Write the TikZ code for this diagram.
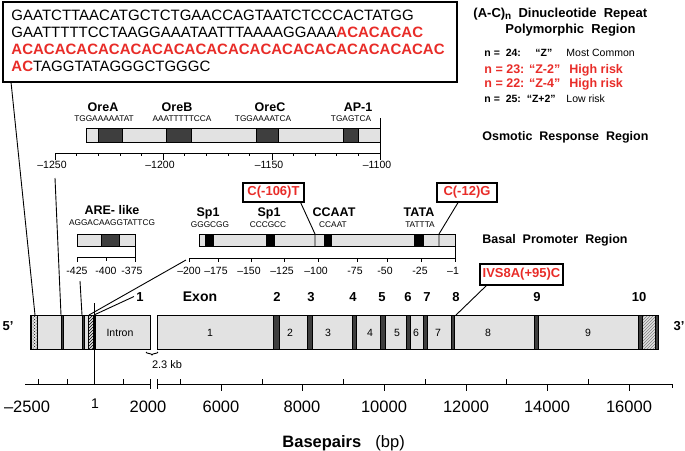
\documentclass[tikz,border=0pt]{standalone}
\usepackage{fontspec}
\setmainfont{Liberation Sans}
\usepackage{tikz}
\usetikzlibrary{patterns, decorations.pathreplacing, arrows.meta, positioning, calc}
\usepackage{xcolor}
\definecolor{repred}{RGB}{232,44,40}
\definecolor{barfill}{RGB}{226,226,226}
\definecolor{sitefill}{RGB}{62,62,62}
\newcommand{\fsz}[1]{\fontsize{#1}{#1}\selectfont}

\begin{document}
\begin{tikzpicture}[x=1pt, y=-1pt, line width=0.9pt,
    lbl/.style={inner sep=0pt, anchor=base},
    seqline/.style={lbl, anchor=base west, font=\fsz{15}},
    site/.style={lbl, font=\fsz{12.5}\bfseries},
    motif/.style={lbl, font=\fsz{8.3}},
    tick/.style={lbl, font=\fsz{10.5}},
    region/.style={lbl, anchor=base west, font=\fsz{12.5}\bfseries},
    mutbox/.style={draw, line width=1.3pt, inner sep=0pt, minimum height=19pt, font=\fsz{13}\bfseries, text=repred},
    bar/.style={draw, fill=barfill},
    exonbar/.style={draw, fill=sitefill},
    exnum/.style={lbl, font=\fsz{13}\bfseries},
    innum/.style={lbl, font=\fsz{10.5}},
    axlbl/.style={lbl, font=\fsz{16.5}}
]
    \useasboundingbox (0,0) rectangle (685,450);

    % (A-C)n sequence
    \node[draw, line width=1.8pt, minimum width=454pt, minimum height=80pt, inner sep=0pt] (seqbox) at (230,42) {};
    \node[seqline] (s1) at (11,20) {GAATCTTAACATGCTCTGAACCAGTAATCTCCCACTATGG};
    \node[seqline] (s2) at (11,37) {GAATTTTTCCTAAGGAAATAATTTAAAAGGAAA\textcolor{repred}{\bfseries ACACACAC}};
    \node[seqline, text=repred, font=\fsz{15}\bfseries] (s3) at (11,54) {ACACACACACACACACACACACACACACACACACACACAC};
    \node[seqline] (s4) at (11,71) {\textcolor{repred}{\bfseries AC}TAGGTATAGGGCTGGGC};

    % legend
    \node[region, font=\fsz{13}\bfseries] (rep1) at (473,17) {(A-C)\raisebox{-2.5pt}{\fsz{10}n}\ \ Dinucleotide\ \ Repeat};
    \node[region, font=\fsz{13}\bfseries] (rep2) at (505,33) {Polymorphic\ \ Region};
    \node[region, font=\fsz{10.5}\bfseries] (n24) at (484,56) {n =\ \ 24:};
    \node[region, font=\fsz{10.5}\bfseries] (z24) at (535,56) {“Z”};
    \node[region, font=\fsz{10.5}] (r24) at (566,56) {Most Common};
    \node[region, text=repred] (n23) at (484,73) {n = 23: “Z-2”};
    \node[region, text=repred] (r23) at (569,73) {High risk};
    \node[region, text=repred] (n22) at (484,87) {n = 22: “Z-4”};
    \node[region, text=repred] (r22) at (569,87) {High risk};
    \node[region, font=\fsz{10.5}\bfseries] (n25) at (484,102) {n =\ \ 25:\ \ “Z+2”};
    \node[region, font=\fsz{10.5}] (r25) at (566,102) {Low risk};

    % osmotic response region
    \node[site] (orea) at (103,111) {OreA};
    \node[motif] (oreaseq) at (104,121) {TGGAAAAATAT};
    \node[site] (oreb) at (177,111) {OreB};
    \node[motif] (orebseq) at (182,121) {AAATTTTTCCA};
    \node[site] (orec) at (270,111) {OreC};
    \node[motif] (orecseq) at (263,121) {TGGAAAATCA};
    \node[site] (ap1) at (358,111) {AP-1};
    \node[motif] (ap1seq) at (351,121) {TGAGTCA};
    \draw[bar] (86,128) rectangle (380,142);
    \draw[exonbar] (98,128) rectangle (122,142);
    \draw[exonbar] (166,128) rectangle (191,142);
    \draw[exonbar] (256,128) rectangle (278,142);
    \draw[exonbar] (343,128) rectangle (358,142);
    \draw (55,160) -- (55,153) -- (380,153);
    \draw (163,153) -- (163,160) (272,153) -- (272,160) (380,118) -- (380,160);
    \draw (76.7,153) -- ++(0,3) (98.3,153) -- ++(0,3) (120,153) -- ++(0,3) (141.7,153) -- ++(0,3)
          (184.7,153) -- ++(0,3) (206.3,153) -- ++(0,3) (228,153) -- ++(0,3) (249.7,153) -- ++(0,3)
          (293.3,153) -- ++(0,3) (315,153) -- ++(0,3) (336.7,153) -- ++(0,3) (358.3,153) -- ++(0,3);
    \node[tick] (o1250) at (52,168) {–1250};
    \node[tick] (o1200) at (160,168) {–1200};
    \node[tick] (o1150) at (269,168) {–1150};
    \node[tick] (o1100) at (377,168) {–1100};
    \node[region] (osmo) at (482,140) {Osmotic\ \ Response\ \ Region};

    % ARE-like
    \node[site] (are) at (112,214) {ARE- like};
    \node[motif] (areseq) at (112,225) {AGGACAAGGTATTCG};
    \draw[bar] (77,234) rectangle (135,246);
    \draw[exonbar] (101,234) rectangle (119,246);
    \draw (77,262) -- (77,257) -- (135,257);
    \draw (106,257) -- (106,261) (135,246) -- (135,262);
    \node[tick] (a425) at (77,274) {-425};
    \node[tick] (a400) at (106,274) {-400};
    \node[tick] (a375) at (132,274) {-375};

    % basal promoter region
    \node[site] (sp1a) at (208,216) {Sp1};
    \node[motif] (sp1aseq) at (210,227) {GGGCGG};
    \node[site] (sp1b) at (269,216) {Sp1};
    \node[motif] (sp1bseq) at (268,227) {CCCGCC};
    \node[site] (ccaat) at (334,216) {CCAAT};
    \node[motif] (ccaatseq) at (333,227) {CCAAT};
    \node[site] (tata) at (419,216) {TATA};
    \node[motif] (tataseq) at (420,227) {TATTTA};
    \draw[bar] (199,234) rectangle (455,246);
    \draw[fill=black] (205,234) rectangle (213,246);
    \draw[fill=black] (266,234) rectangle (274,246);
    \draw[fill=black] (324,234) rectangle (331,246);
    \draw[fill=black] (414,234) rectangle (423,246);
    \draw (189,262) -- (189,258) -- (455,258);
    \draw (218,258) -- ++(0,4) (251,258) -- ++(0,4) (284,258) -- ++(0,4) (318,258) -- ++(0,4)
          (357,258) -- ++(0,4) (387,258) -- ++(0,4) (421,258) -- ++(0,4) (455,246) -- (455,262);
    \node[tick] (b200) at (189,274) {–200};
    \node[tick] (b175) at (216,274) {–175};
    \node[tick] (b150) at (249,274) {–150};
    \node[tick] (b125) at (282,274) {–125};
    \node[tick] (b100) at (316,274) {–100};
    \node[tick] (b75) at (355,274) {-75};
    \node[tick] (b50) at (385,274) {-50};
    \node[tick] (b25) at (420,274) {-25};
    \node[tick] (b1) at (453,274) {–1};
    \node[region] (basal) at (482,243) {Basal\ \ Promoter\ \ Region};

    % polymorphisms
    \node[mutbox, minimum width=61pt] (c106) at (273.5,192.5) {C(-106)T};
    \node[mutbox, minimum width=60pt] (c12) at (467,192.5) {C(-12)G};
    \node[mutbox, minimum width=83pt, minimum height=21pt] (ivs) at (521.5,274.5) {IVS8A(+95)C};
    \coordinate (m106a) at (315,234);
    \coordinate (m106b) at (315,246);
    \coordinate (m12a) at (439,234);
    \coordinate (m12b) at (439,246);
    \coordinate (mivsa) at (456,315);
    \coordinate (mivsb) at (456,349);
    \draw ([xshift=-4pt]c106.south east) -- (m106a) -- (m106b);
    \draw ([xshift=-9pt]c12.south) -- (m12a) -- (m12b);
    \draw ([xshift=7pt]ivs.south west) -- (mivsa) -- (mivsb);

    % gene
    \node[lbl, font=\fsz{13}\bfseries] (five) at (8,330) {5’};
    \node[lbl, font=\fsz{13}\bfseries] (three) at (679,330) {3’};
    \draw[bar] (30,315) rectangle (150,349);
    \draw[bar] (157,315) rectangle (658,349);
    \draw[pattern=crosshatch dots] (30,315) rectangle (37,349);
    \draw[line width=1.8pt] (30.9,315) -- (30.9,349);
    \draw[exonbar] (61,315) rectangle (63,349);
    \draw[exonbar] (82,315) rectangle (84,349);
    \draw[pattern=north east lines] (88,315) rectangle (93,349);
    \draw[fill=black] (93,315) rectangle (95,349);
    \draw[exonbar] (273,315) rectangle (279,349);
    \draw[exonbar] (307,315) rectangle (312,349);
    \draw[exonbar] (352,315) rectangle (356,349);
    \draw[exonbar] (380,315) rectangle (385,349);
    \draw[exonbar] (406,315) rectangle (410,349);
    \draw[exonbar] (423,315) rectangle (427,349);
    \draw[exonbar] (451,315) rectangle (454,349);
    \draw[exonbar] (534,315) rectangle (538,349);
    \draw[pattern=north east lines, pattern color=gray] (642,315) rectangle (655,349);
    \draw[exonbar] (638,315) rectangle (642,349);
    \draw[exonbar] (655,315) rectangle (658,349);

    \node[exnum] (e1) at (140,301) {1};
    \node[lbl, font=\fsz{14}\bfseries] (exon) at (200,301) {Exon};
    \node[exnum] (e2) at (277,301) {2};
    \node[exnum] (e3) at (311,301) {3};
    \node[exnum] (e4) at (353,301) {4};
    \node[exnum] (e5) at (382,301) {5};
    \node[exnum] (e6) at (408,301) {6};
    \node[exnum] (e7) at (427,301) {7};
    \node[exnum] (e8) at (456,301) {8};
    \node[exnum] (e9) at (537,301) {9};
    \node[exnum] (e10) at (639,301) {10};

    \node[innum] (intron) at (120,336) {Intron};
    \node[innum] (i1) at (210,336) {1};
    \node[innum] (i2) at (290,336) {2};
    \node[innum] (i3) at (328,336) {3};
    \node[innum] (i4) at (370,336) {4};
    \node[innum] (i5) at (397,336) {5};
    \node[innum] (i6) at (416,336) {6};
    \node[innum] (i7) at (438,336) {7};
    \node[innum] (i8) at (488,336) {8};
    \node[innum] (i9) at (588,336) {9};

    \draw[decorate, decoration={brace, mirror, amplitude=3pt}] (146,352) -- (158,352);
    \node[lbl, font=\fsz{11}] (gap) at (167,368) {2.3 kb};

    % links from the regions to the gene
    \coordinate (gac) at (35,315);
    \coordinate (gosm) at (61,315);
    \coordinate (gare) at (82,315);
    \coordinate (gbas) at (89,315);
    \coordinate (gex1) at (94,315);
    \coordinate (osmtop) at (55,178);
    \coordinate (aretop) at (80,281);
    \coordinate (bastop) at (186,260);
    \draw ([xshift=9pt]seqbox.south west) -- (gac);
    \draw (osmtop) -- (gosm);
    \draw (aretop) -- (gare);
    \draw (bastop) -- (gbas);
    \draw ([xshift=-2pt]e1.west) -- (gex1);

    % basepair axis
    \coordinate (one) at (94,303);
    \draw (25,384) -- (150,384) (157,384) -- (672,384);
    \draw (150,379) -- (150,389) (157,379) -- (157,389);
    \draw (one) -- (94,384);
    \draw (221,384) -- ++(0,7) (302,384) -- ++(0,7) (384,384) -- ++(0,7) (466,384) -- ++(0,7)
          (547,384) -- ++(0,7) (629,384) -- ++(0,7) (672,384) -- ++(0,4);
    \draw (38,384) -- ++(0,-5) (67,384) -- ++(0,-5) (123,384) -- ++(0,-5) (180,384) -- ++(0,-5)
          (262,384) -- ++(0,-5) (343,384) -- ++(0,-5) (425,384) -- ++(0,-5) (506,384) -- ++(0,-5)
          (588,384) -- ++(0,-5);
    \node[axlbl] (x2500) at (27,412) {–2500};
    \node[lbl, font=\fsz{14}] (x1) at (95,408) {1};
    \node[axlbl] (x2000) at (148,412) {2000};
    \node[axlbl] (x6000) at (221,412) {6000};
    \node[axlbl] (x8000) at (302,412) {8000};
    \node[axlbl] (x10000) at (384,412) {10000};
    \node[axlbl] (x12000) at (466,412) {12000};
    \node[axlbl] (x14000) at (547,412) {14000};
    \node[axlbl] (x16000) at (629,412) {16000};
    \node[lbl, anchor=base west, font=\fsz{16.5}\bfseries] (bp) at (282,447) {Basepairs};
    \node[lbl, anchor=base west, font=\fsz{16.5}] (bpunit) at (375,447) {(bp)};
\end{tikzpicture}
\end{document}
